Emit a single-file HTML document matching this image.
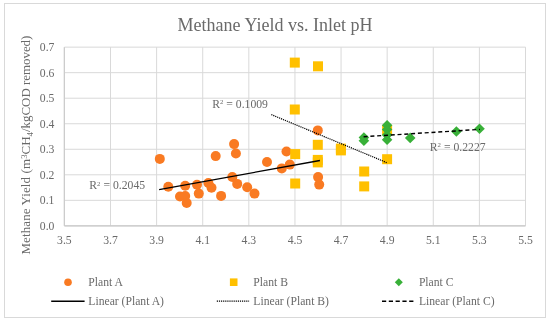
<!DOCTYPE html><html><head><meta charset="utf-8"><title>Methane Yield vs. Inlet pH</title>
<style>html,body{margin:0;padding:0;background:#fff;}svg{display:block;}</style></head><body>
<svg width="550" height="322" viewBox="0 0 550 322" font-family="'Liberation Serif', 'Times New Roman', serif">
<rect x="0" y="0" width="550" height="322" fill="#fff"/>
<rect x="4.5" y="3.5" width="541" height="314" fill="#fff" stroke="#d9d9d9" stroke-width="1"/>
<text x="275" y="31" font-size="18" fill="#6a6a6a" text-anchor="middle">Methane Yield vs. Inlet pH</text>
<path d="M64.40 47.15V225.86M110.51 47.15V225.86M156.62 47.15V225.86M202.73 47.15V225.86M248.84 47.15V225.86M294.95 47.15V225.86M341.06 47.15V225.86M387.17 47.15V225.86M433.28 47.15V225.86M479.39 47.15V225.86M525.50 47.15V225.86M64.40 47.15H525.50M64.40 72.68H525.50M64.40 98.21H525.50M64.40 123.74H525.50M64.40 149.27H525.50M64.40 174.80H525.50M64.40 200.33H525.50M64.40 225.86H525.50" stroke="#d9d9d9" stroke-width="1" fill="none"/>
<path d="M64.30 47.15V225.86M64.40 225.86H525.50" stroke="#c9c9c9" stroke-width="1.1" fill="none"/>
<text x="54.4" y="51.15" font-size="11.7" fill="#6a6a6a" text-anchor="end">0.7</text>
<text x="54.4" y="76.68" font-size="11.7" fill="#6a6a6a" text-anchor="end">0.6</text>
<text x="54.4" y="102.21" font-size="11.7" fill="#6a6a6a" text-anchor="end">0.5</text>
<text x="54.4" y="127.74" font-size="11.7" fill="#6a6a6a" text-anchor="end">0.4</text>
<text x="54.4" y="153.27" font-size="11.7" fill="#6a6a6a" text-anchor="end">0.3</text>
<text x="54.4" y="178.80" font-size="11.7" fill="#6a6a6a" text-anchor="end">0.2</text>
<text x="54.4" y="204.33" font-size="11.7" fill="#6a6a6a" text-anchor="end">0.1</text>
<text x="54.4" y="229.86" font-size="11.7" fill="#6a6a6a" text-anchor="end">0.0</text>
<text x="64.40" y="244.0" font-size="11.7" fill="#6a6a6a" text-anchor="middle">3.5</text>
<text x="110.51" y="244.0" font-size="11.7" fill="#6a6a6a" text-anchor="middle">3.7</text>
<text x="156.62" y="244.0" font-size="11.7" fill="#6a6a6a" text-anchor="middle">3.9</text>
<text x="202.73" y="244.0" font-size="11.7" fill="#6a6a6a" text-anchor="middle">4.1</text>
<text x="248.84" y="244.0" font-size="11.7" fill="#6a6a6a" text-anchor="middle">4.3</text>
<text x="294.95" y="244.0" font-size="11.7" fill="#6a6a6a" text-anchor="middle">4.5</text>
<text x="341.06" y="244.0" font-size="11.7" fill="#6a6a6a" text-anchor="middle">4.7</text>
<text x="387.17" y="244.0" font-size="11.7" fill="#6a6a6a" text-anchor="middle">4.9</text>
<text x="433.28" y="244.0" font-size="11.7" fill="#6a6a6a" text-anchor="middle">5.1</text>
<text x="479.39" y="244.0" font-size="11.7" fill="#6a6a6a" text-anchor="middle">5.3</text>
<text x="525.50" y="244.0" font-size="11.7" fill="#6a6a6a" text-anchor="middle">5.5</text>
<text transform="translate(30.1,145.1) rotate(-90)" x="0" y="0" font-size="13.0" fill="#6a6a6a" text-anchor="middle"><tspan style="letter-spacing:0.1px">Methane Yield (m</tspan><tspan font-size="8.71" dy="-3.4">3</tspan><tspan dy="3.4">CH</tspan><tspan font-size="8.71" dy="2.5">4</tspan><tspan dy="-2.5" style="letter-spacing:-0.05px">/kgCOD removed)</tspan></text>
<circle cx="159.8" cy="158.9" r="5.0" fill="#f97a22"/>
<circle cx="168.3" cy="186.7" r="5.0" fill="#f97a22"/>
<circle cx="180.0" cy="196.5" r="5.0" fill="#f97a22"/>
<circle cx="185.2" cy="185.7" r="5.0" fill="#f97a22"/>
<circle cx="185.2" cy="196.1" r="5.0" fill="#f97a22"/>
<circle cx="186.7" cy="203" r="5.0" fill="#f97a22"/>
<circle cx="197" cy="184.8" r="5.0" fill="#f97a22"/>
<circle cx="198.8" cy="193.6" r="5.0" fill="#f97a22"/>
<circle cx="208.4" cy="183" r="5.0" fill="#f97a22"/>
<circle cx="211.5" cy="187.7" r="5.0" fill="#f97a22"/>
<circle cx="215.7" cy="156.1" r="5.0" fill="#f97a22"/>
<circle cx="221.1" cy="195.9" r="5.0" fill="#f97a22"/>
<circle cx="234.1" cy="144.1" r="5.0" fill="#f97a22"/>
<circle cx="235.9" cy="153.5" r="5.0" fill="#f97a22"/>
<circle cx="232.3" cy="177.0" r="5.0" fill="#f97a22"/>
<circle cx="237.2" cy="183.9" r="5.0" fill="#f97a22"/>
<circle cx="247.2" cy="187.3" r="5.0" fill="#f97a22"/>
<circle cx="254.5" cy="193.6" r="5.0" fill="#f97a22"/>
<circle cx="267" cy="162.0" r="5.0" fill="#f97a22"/>
<circle cx="281.8" cy="168.4" r="5.0" fill="#f97a22"/>
<circle cx="286.5" cy="151.5" r="5.0" fill="#f97a22"/>
<circle cx="289.8" cy="164.6" r="5.0" fill="#f97a22"/>
<circle cx="317.8" cy="130.4" r="5.0" fill="#f97a22"/>
<circle cx="318.1" cy="177.1" r="5.0" fill="#f97a22"/>
<circle cx="319.2" cy="184.6" r="5.0" fill="#f97a22"/>
<rect x="289.80" y="57.60" width="10.0" height="10.0" fill="#ffc000"/>
<rect x="313.00" y="61.30" width="10.0" height="10.0" fill="#ffc000"/>
<rect x="289.80" y="104.50" width="10.0" height="10.0" fill="#ffc000"/>
<rect x="312.80" y="139.80" width="10.0" height="10.0" fill="#ffc000"/>
<rect x="312.80" y="154.90" width="10.0" height="10.0" fill="#ffc000"/>
<rect x="312.80" y="157.40" width="10.0" height="10.0" fill="#ffc000"/>
<rect x="290.20" y="149.10" width="10.0" height="10.0" fill="#ffc000"/>
<rect x="290.20" y="178.50" width="10.0" height="10.0" fill="#ffc000"/>
<rect x="335.90" y="143.60" width="10.0" height="10.0" fill="#ffc000"/>
<rect x="335.90" y="145.40" width="10.0" height="10.0" fill="#ffc000"/>
<rect x="359.20" y="166.50" width="10.0" height="10.0" fill="#ffc000"/>
<rect x="359.20" y="181.40" width="10.0" height="10.0" fill="#ffc000"/>
<rect x="382.10" y="154.20" width="10.0" height="10.0" fill="#ffc000"/>
<rect x="382.10" y="125.00" width="10.0" height="10.0" fill="#ffc000"/>
<path d="M363.90 132.20L369.20 137.50L363.90 142.80L358.60 137.50Z" fill="#38b038"/>
<path d="M363.90 135.40L369.20 140.70L363.90 146.00L358.60 140.70Z" fill="#38b038"/>
<path d="M387.10 120.00L392.40 125.30L387.10 130.60L381.80 125.30Z" fill="#38b038"/>
<path d="M387.10 124.20L392.40 129.50L387.10 134.80L381.80 129.50Z" fill="#38b038"/>
<path d="M387.10 129.70L392.40 135.00L387.10 140.30L381.80 135.00Z" fill="#38b038"/>
<path d="M387.10 134.40L392.40 139.70L387.10 145.00L381.80 139.70Z" fill="#38b038"/>
<path d="M410.20 132.60L415.50 137.90L410.20 143.20L404.90 137.90Z" fill="#38b038"/>
<path d="M456.40 126.20L461.70 131.50L456.40 136.80L451.10 131.50Z" fill="#38b038"/>
<path d="M479.50 123.40L484.80 128.70L479.50 134.00L474.20 128.70Z" fill="#38b038"/>
<path d="M159.1 189.6L319.9 160.5" stroke="#000" stroke-width="1.35" fill="none"/>
<path d="M271.3 114.6L386.7 162.6" stroke="#000" stroke-width="1.2" stroke-dasharray="1.2 0.9" fill="none"/>
<path d="M363.6 136.75L480 129.4" stroke="#000" stroke-width="1.4" stroke-dasharray="4 2.8" fill="none"/>
<text x="89.3" y="189.3" font-size="11.7" fill="#6a6a6a">R<tspan font-size="6.8" dy="-3.7">2</tspan><tspan dy="3.7"> = 0.2045</tspan></text>
<text x="212.2" y="107.6" font-size="11.7" fill="#6a6a6a">R<tspan font-size="6.8" dy="-3.7">2</tspan><tspan dy="3.7"> = 0.1009</tspan></text>
<text x="429.8" y="150.5" font-size="11.7" fill="#6a6a6a">R<tspan font-size="6.8" dy="-3.7">2</tspan><tspan dy="3.7"> = 0.2227</tspan></text>
<circle cx="68" cy="282.2" r="3.8" fill="#f97a22"/>
<text x="88.3" y="286" font-size="11.65" fill="#6a6a6a">Plant A</text>
<rect x="229.9" y="278.4" width="7.6" height="7.6" fill="#ffc000"/>
<text x="253.3" y="286" font-size="11.65" fill="#6a6a6a">Plant B</text>
<path d="M398.8 278.3L402.8 282.3L398.8 286.3L394.8 282.3Z" fill="#38b038"/>
<text x="418.9" y="286" font-size="11.65" fill="#6a6a6a">Plant C</text>
<path d="M51.2 301.3H84.6" stroke="#000" stroke-width="1.5"/>
<text x="88.3" y="304.6" font-size="11.65" fill="#6a6a6a">Linear (Plant A)</text>
<path d="M216.8 301.1H249.1" stroke="#000" stroke-width="1.2" stroke-dasharray="1.2 0.9"/>
<text x="253.3" y="304.6" font-size="11.65" fill="#6a6a6a">Linear (Plant B)</text>
<path d="M382 301.2H413.4" stroke="#000" stroke-width="1.5" stroke-dasharray="4.2 2.6"/>
<text x="418.9" y="304.6" font-size="11.65" fill="#6a6a6a">Linear (Plant C)</text>
</svg></body></html>
